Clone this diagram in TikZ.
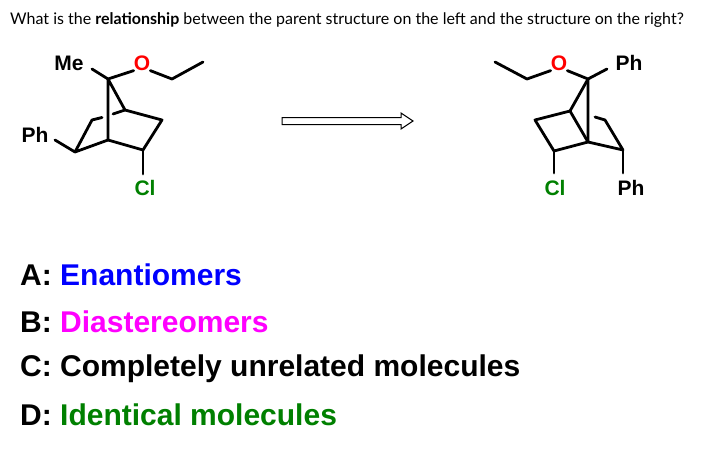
\documentclass[tikz,border=0pt]{standalone}
\usepackage{fontspec}
\setmainfont{Liberation Sans}
\newfontfamily\latof{Lato}
\definecolor{myblue}{RGB}{0,0,255}
\definecolor{mymag}{RGB}{255,0,255}
\definecolor{mygreen}{RGB}{0,128,0}
\begin{document}
\begin{tikzpicture}[x=1pt,y=-1pt,
  bd/.style={line width=2.8pt,line join=round,line cap=round},
  lab/.style={font=\fontsize{21}{22}\selectfont\bfseries,inner sep=0pt},
  ans/.style={font=\fontsize{30}{34}\selectfont\bfseries,anchor=west,inner sep=0pt}]
\useasboundingbox (0,0) rectangle (710,460);
\node[anchor=west,inner sep=0pt,font=\latof\fontsize{16}{18}\selectfont] (q) at (10,20) {What is the \textbf{relationship} between the parent structure on the left and the structure on the right?};
% left molecule
\coordinate (a7) at (108,79); \coordinate (a1) at (125,110); \coordinate (a2) at (162,120);
\coordinate (a3) at (143,150); \coordinate (a4) at (108,140); \coordinate (a5) at (75,152);
\coordinate (a6) at (92,120); \coordinate (ag1) at (102,117.5); \coordinate (ag2) at (113,114);
\coordinate (ame) at (92,69); \coordinate (ach2) at (172,79); \coordinate (ach3) at (203,62);
\coordinate (aph) at (55,140); \coordinate (acl) at (143,174);
\node[lab] (me) at (69,63) {Me};
\node[lab,text=red] (ao) at (142,63) {O};
\node[lab] (aphl) at (35,135) {Ph};
\node[lab,text=mygreen] (acll) at (145,188) {Cl};
\draw[bd] (ame)--(a7)--(ao.south west); \draw[bd] (ao.south east)--(ach2)--(ach3);
\draw[bd] (a7)--(a4)--(a3)--(a2)--(a1)--(a7);
\draw[bd] (a4)--(a5)--(a6)--(ag1); \draw[bd] (ag2)--(a1);
\draw[bd] (a5)--(aph); \draw[bd] (a3)--(acl);
% right molecule
\coordinate (b7) at (588,79); \coordinate (b1) at (570,111); \coordinate (b2) at (535,120);
\coordinate (b3) at (554,151); \coordinate (b4) at (588,142); \coordinate (b5) at (623,150);
\coordinate (b6) at (605,120); \coordinate (bg1) at (595,117); \coordinate (bph) at (607,69);
\coordinate (bch2) at (527,79); \coordinate (bch3) at (495,62);
\coordinate (bcl) at (554,173); \coordinate (bph2) at (623,173);
\node[lab,text=red] (bo) at (559,63) {O};
\node[lab] (bphl) at (629,63) {Ph};
\node[lab,text=mygreen] (bcll) at (555,188) {Cl};
\node[lab] (bph2l) at (631,188) {Ph};
\draw[bd] (bph)--(b7)--(bo.south east); \draw[bd] (bo.south west)--(bch2)--(bch3);
\draw[bd] (b7)--(b4)--(b5)--(b6)--(bg1); \draw[bd] (b7)--(b1)--(b2)--(b3)--(b4)--(b1);
\draw[bd] (b3)--(bcl); \draw[bd] (b5)--(bph2);
% arrow
\draw[line width=1pt,line join=miter] (282,117.5)--(401,117.5)--(401,113)--(413,121)--(401,129)--(401,124.5)--(282,124.5)--cycle;
% answers
\node[ans] (A) at (20,275) {A: \textcolor{myblue}{Enantiomers}};
\node[ans] (B) at (20,322) {B: \textcolor{mymag}{Diastereomers}};
\node[ans] (C) at (20,369) {C: Completely unrelated molecules};
\node[ans] (D) at (20,415) {D: \textcolor{mygreen}{Identical molecules}};
\end{tikzpicture}
\end{document}
